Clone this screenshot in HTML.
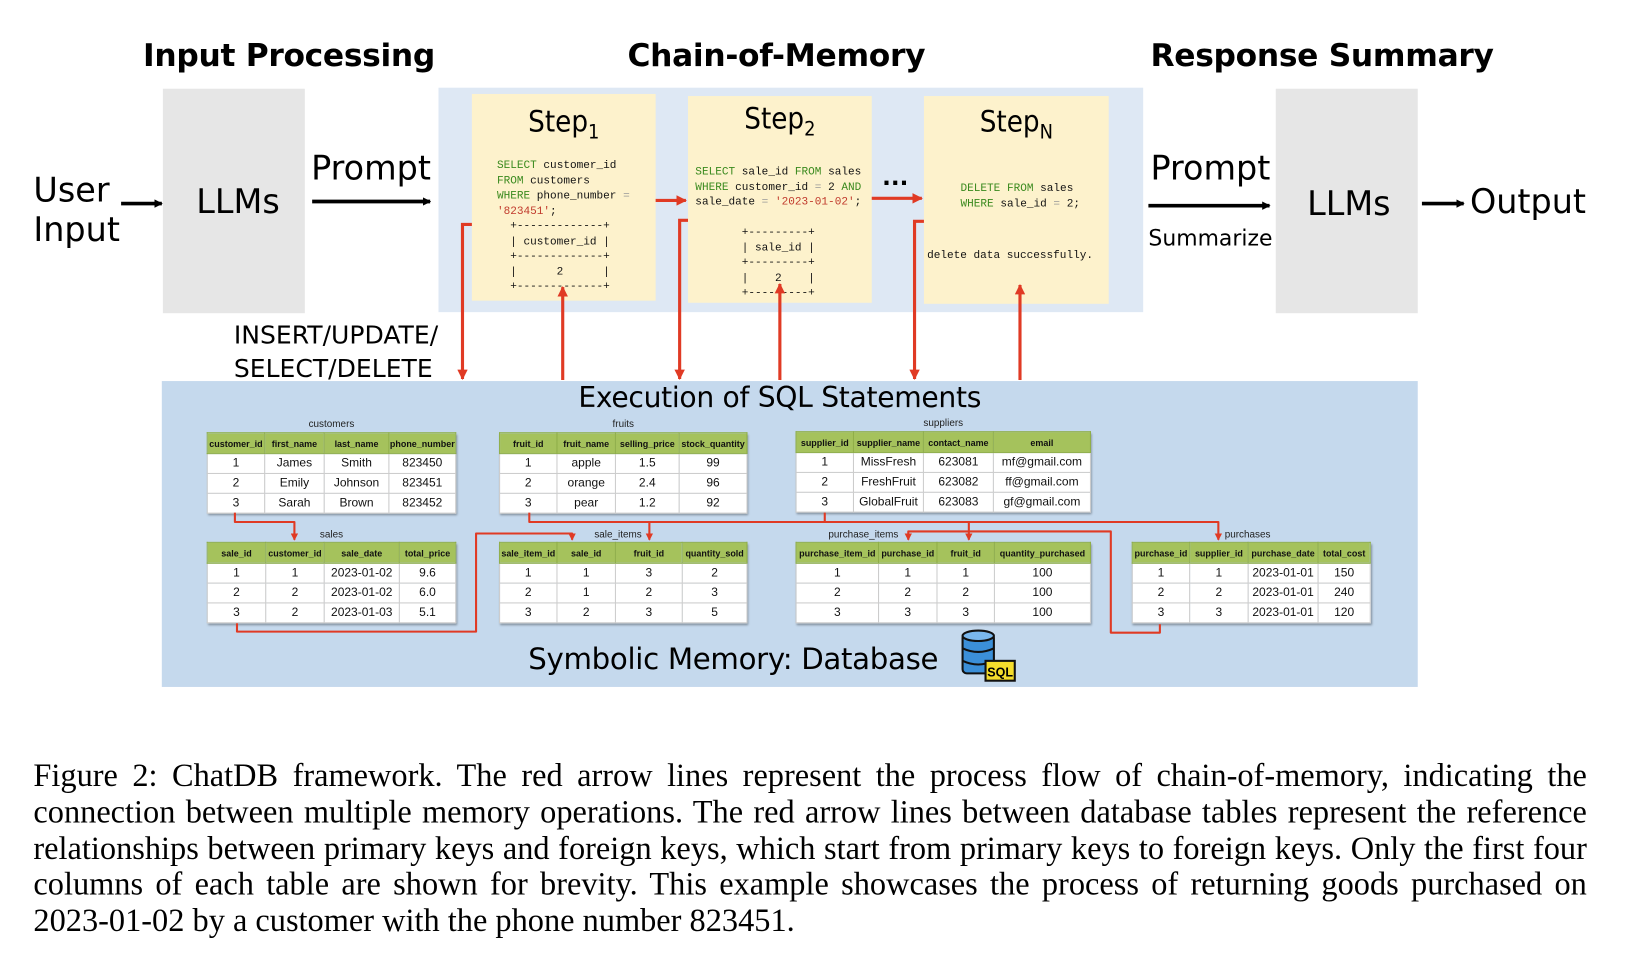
<!DOCTYPE html>
<html><head><meta charset="utf-8">
<style>
html,body{margin:0;padding:0;background:#fff;width:1638px;height:966px;overflow:hidden}
#w{position:absolute;left:0;top:0;width:1569px;height:925px;transform:scale(1.044);transform-origin:0 0;font-family:"DejaVu Sans","Liberation Sans",sans-serif}
.a{position:absolute}
.t{font-weight:bold;font-size:30px;white-space:nowrap;letter-spacing:-0.3px}
.big{font-size:32px;white-space:nowrap}
.gray{background:#e6e6e6}
.step{background:#fdf2cc}
.st{font-family:"DejaVu Sans Condensed","DejaVu Sans",sans-serif;font-size:28px;text-align:center;width:100%}
.st sub{font-size:19px}
pre{margin:0;font-family:"Liberation Mono",monospace;font-size:10.6px;line-height:14.5px;color:#111}
.k{color:#3a8a1e}.s{color:#c0392b}.o{color:#999}
table{position:absolute;border-collapse:collapse;table-layout:fixed;font-family:"Liberation Sans",sans-serif;box-shadow:1px 2px 2px rgba(0,0,0,.35)}
td{background:#fff;border:1px solid #ccc;text-align:center;font-size:11.5px;height:18px;padding:0;color:#111}
th{background:#a5c25c;border:1px solid #8fae48;font-size:8.6px;height:19px;padding:0;white-space:nowrap;overflow:hidden;color:#111}
.tn{position:absolute;font-family:"Liberation Sans",sans-serif;font-size:9.5px;color:#222;text-align:center}
.cap{position:absolute;left:32px;top:726px;width:1488px;font-family:"Liberation Serif",serif;font-size:31px;line-height:34.8px;color:#000}
.cap div{text-align:justify;text-align-last:justify;white-space:nowrap}
.cap div.l{text-align-last:left}
</style></head><body><div id="w">

<div class="a t" style="left:137px;top:36px">Input Processing</div>
<div class="a t" style="left:601px;top:36px">Chain-of-Memory</div>
<div class="a t" style="left:1102px;top:36px">Response Summary</div>

<div class="a gray" style="left:156px;top:85px;width:136px;height:215px"></div>
<div class="a big" style="left:188px;top:174px">LLMs</div>
<div class="a big" style="left:32px;top:163px;line-height:38px">User<br>Input</div>
<div class="a big" style="left:298px;top:142px">Prompt</div>

<div class="a" style="left:420px;top:84px;width:675px;height:215px;background:#dee8f4"></div>
<div class="a step" style="left:452px;top:90px;width:176px;height:198px"></div>
<div class="a step" style="left:659px;top:92px;width:176px;height:198px"></div>
<div class="a step" style="left:885px;top:92px;width:177px;height:199px"></div>
<div class="a st" style="left:452px;top:100px;width:176px">Step<sub>1</sub></div>
<div class="a st" style="left:659px;top:97px;width:176px">Step<sub>2</sub></div>
<div class="a st" style="left:885px;top:100px;width:177px">Step<sub>N</sub></div>
<pre class="a" style="left:476px;top:152px"><span class="k">SELECT</span> customer_id
<span class="k">FROM</span> customers
<span class="k">WHERE</span> phone_number <span class="o">=</span>
<span class="s">'823451'</span>;
  +-------------+
  | customer_id |
  +-------------+
  |      2      |
  +-------------+</pre>
<pre class="a" style="left:666px;top:158px"><span class="k">SELECT</span> sale_id <span class="k">FROM</span> sales
<span class="k">WHERE</span> customer_id <span class="o">=</span> 2 <span class="k">AND</span>
sale_date <span class="o">=</span> <span class="s">'2023-01-02'</span>;

       +---------+
       | sale_id |
       +---------+
       |    2    |
       +---------+</pre>
<pre class="a" style="left:920px;top:174px"><span class="k">DELETE</span> <span class="k">FROM</span> sales
<span class="k">WHERE</span> sale_id <span class="o">=</span> 2;</pre>
<pre class="a" style="left:888px;top:238px">delete data successfully.</pre>
<div class="a" style="left:845px;top:158px;font-size:22px;font-weight:bold">...</div>

<div class="a big" style="left:1102px;top:142px">Prompt</div>
<div class="a" style="left:1100px;top:216px;font-size:21px">Summarize</div>
<div class="a gray" style="left:1222px;top:85px;width:136px;height:215px"></div>
<div class="a big" style="left:1252px;top:176px">LLMs</div>
<div class="a big" style="left:1408px;top:174px">Output</div>

<div class="a" style="left:224px;top:305px;font-size:24px;line-height:32px;white-space:nowrap">INSERT/UPDATE/<br>SELECT/DELETE</div>

<div class="a" style="left:155px;top:365px;width:1203px;height:293px;background:#c5d9ed"></div>
<div class="a" style="left:554px;top:366px;font-size:27px;white-space:nowrap;letter-spacing:-0.3px">Execution of SQL Statements</div>
<div class="a" style="left:506px;top:615px;font-size:28px;white-space:nowrap;letter-spacing:-0.3px">Symbolic Memory: Database</div>

<div class="tn" style="left:198px;top:401px;width:239px">customers</div>
<table style="left:198px;top:414px;width:239px"><colgroup><col style="width:55px"><col style="width:57px"><col style="width:62px"><col></colgroup>
<tr><th>customer_id</th><th>first_name</th><th>last_name</th><th>phone_number</th></tr>
<tr><td>1</td><td>James</td><td>Smith</td><td>823450</td></tr>
<tr><td>2</td><td>Emily</td><td>Johnson</td><td>823451</td></tr>
<tr><td>3</td><td>Sarah</td><td>Brown</td><td>823452</td></tr></table>

<div class="tn" style="left:198px;top:507px;width:239px">sales</div>
<table style="left:198px;top:519px;width:239px"><colgroup><col style="width:56px"><col style="width:56px"><col style="width:72px"><col></colgroup>
<tr><th>sale_id</th><th>customer_id</th><th>sale_date</th><th>total_price</th></tr>
<tr><td>1</td><td>1</td><td>2023-01-02</td><td>9.6</td></tr>
<tr><td>2</td><td>2</td><td>2023-01-02</td><td>6.0</td></tr>
<tr><td>3</td><td>2</td><td>2023-01-03</td><td>5.1</td></tr></table>

<div class="tn" style="left:478px;top:401px;width:238px">fruits</div>
<table style="left:478px;top:414px;width:238px"><colgroup><col style="width:55px"><col style="width:56px"><col style="width:61px"><col></colgroup>
<tr><th>fruit_id</th><th>fruit_name</th><th>selling_price</th><th>stock_quantity</th></tr>
<tr><td>1</td><td>apple</td><td>1.5</td><td>99</td></tr>
<tr><td>2</td><td>orange</td><td>2.4</td><td>96</td></tr>
<tr><td>3</td><td>pear</td><td>1.2</td><td>92</td></tr></table>

<div class="tn" style="left:478px;top:507px;width:228px">sale_items</div>
<table style="left:478px;top:519px;width:238px"><colgroup><col style="width:55px"><col style="width:56px"><col style="width:64px"><col></colgroup>
<tr><th>sale_item_id</th><th>sale_id</th><th>fruit_id</th><th>quantity_sold</th></tr>
<tr><td>1</td><td>1</td><td>3</td><td>2</td></tr>
<tr><td>2</td><td>1</td><td>2</td><td>3</td></tr>
<tr><td>3</td><td>2</td><td>3</td><td>5</td></tr></table>

<div class="tn" style="left:762px;top:400px;width:283px">suppliers</div>
<table style="left:762px;top:413px;width:283px"><colgroup><col style="width:55px"><col style="width:67px"><col style="width:67px"><col></colgroup>
<tr><th>supplier_id</th><th>supplier_name</th><th>contact_name</th><th>email</th></tr>
<tr><td>1</td><td>MissFresh</td><td>623081</td><td>mf@gmail.com</td></tr>
<tr><td>2</td><td>FreshFruit</td><td>623082</td><td>ff@gmail.com</td></tr>
<tr><td>3</td><td>GlobalFruit</td><td>623083</td><td>gf@gmail.com</td></tr></table>

<div class="tn" style="left:772px;top:507px;width:110px">purchase_items</div>
<table style="left:762px;top:519px;width:283px"><colgroup><col style="width:79px"><col style="width:56px"><col style="width:55px"><col></colgroup>
<tr><th>purchase_item_id</th><th>purchase_id</th><th>fruit_id</th><th>quantity_purchased</th></tr>
<tr><td>1</td><td>1</td><td>1</td><td>100</td></tr>
<tr><td>2</td><td>2</td><td>2</td><td>100</td></tr>
<tr><td>3</td><td>3</td><td>3</td><td>100</td></tr></table>

<div class="tn" style="left:1170px;top:507px;width:50px">purchases</div>
<table style="left:1084px;top:519px;width:229px"><colgroup><col style="width:55px"><col style="width:56px"><col style="width:67px"><col></colgroup>
<tr><th>purchase_id</th><th>supplier_id</th><th>purchase_date</th><th>total_cost</th></tr>
<tr><td>1</td><td>1</td><td>2023-01-01</td><td>150</td></tr>
<tr><td>2</td><td>2</td><td>2023-01-01</td><td>240</td></tr>
<tr><td>3</td><td>3</td><td>2023-01-01</td><td>120</td></tr></table>

<svg class="a" style="left:0;top:0" width="1569" height="925">
<defs>
<marker id="bk" markerWidth="8" markerHeight="8" refX="7" refY="4" orient="auto" markerUnits="userSpaceOnUse"><path d="M0,0L8,4L0,8z" fill="#000"/></marker>
<marker id="rd" markerWidth="10" markerHeight="10" refX="9" refY="5" orient="auto" markerUnits="userSpaceOnUse"><path d="M0,0L10,5L0,10z" fill="#e03a24"/></marker>
<marker id="rs" markerWidth="7" markerHeight="7" refX="6" refY="3.5" orient="auto" markerUnits="userSpaceOnUse"><path d="M0,0L7,3.5L0,7z" fill="#e03a24"/></marker>
</defs>
<g stroke="#000" stroke-width="3.5" fill="none">
<line x1="116" y1="195" x2="155" y2="195" marker-end="url(#bk)"/>
<line x1="299" y1="193" x2="412" y2="193" marker-end="url(#bk)"/>
<line x1="1100" y1="197" x2="1216" y2="197" marker-end="url(#bk)"/>
<line x1="1362" y1="195" x2="1402" y2="195" marker-end="url(#bk)"/>
</g>
<g stroke="#e03a24" stroke-width="3" fill="none">
<line x1="628" y1="192" x2="657" y2="192" marker-end="url(#rd)"/>
<line x1="835" y1="190" x2="883" y2="190" marker-end="url(#rd)"/>
<polyline points="452,215 443,215 443,363" marker-end="url(#rd)"/>
<polyline points="659,211 651,211 651,363" marker-end="url(#rd)"/>
<polyline points="885,212 876,212 876,363" marker-end="url(#rd)"/>
<line x1="539" y1="364" x2="539" y2="275" marker-end="url(#rd)"/>
<line x1="747" y1="364" x2="747" y2="272" marker-end="url(#rd)"/>
<line x1="977" y1="364" x2="977" y2="273" marker-end="url(#rd)"/>
</g>
<g stroke="#e03a24" stroke-width="2" fill="none" stroke-linejoin="round">
<polyline points="225,491 225,500 282,500 282,517" marker-end="url(#rs)"/>
<polyline points="227,597 227,605 456,605 456,511 548,511 548,517" marker-end="url(#rs)"/>
<polyline points="507,491 507,500 928,500 928,517" marker-end="url(#rs)"/>
<polyline points="622,500 622,517" marker-end="url(#rs)"/>
<polyline points="790,491 790,500 1167,500 1167,517" marker-end="url(#rs)"/>
<polyline points="1111,598 1111,606 1064,606 1064,509 870,509 870,517" marker-end="url(#rs)"/>
</g>
<g transform="translate(920,603)">
<rect x="2" y="4" width="30" height="38" rx="4" fill="#3b8fd8" stroke="#111" stroke-width="2"/>
<ellipse cx="17" cy="6" rx="15" ry="5" fill="#7ab8ee" stroke="#111" stroke-width="2"/>
<path d="M2,18 Q17,25 32,18 M2,30 Q17,37 32,30" stroke="#111" stroke-width="2" fill="none"/>
<rect x="24" y="30" width="28" height="19" fill="#f5dd2c" stroke="#111" stroke-width="2"/>
<text x="38" y="45" font-family="Liberation Sans" font-weight="bold" font-size="12" text-anchor="middle">SQL</text>
</g>
</svg>

<div class="cap">
<div>Figure 2: ChatDB framework. The red arrow lines represent the process flow of chain-of-memory, indicating the</div>
<div>connection between multiple memory operations. The red arrow lines between database tables represent the reference</div>
<div>relationships between primary keys and foreign keys, which start from primary keys to foreign keys. Only the first four</div>
<div>columns of each table are shown for brevity. This example showcases the process of returning goods purchased on</div>
<div class="l">2023-01-02 by a customer with the phone number 823451.</div>
</div>
</div></body></html>
